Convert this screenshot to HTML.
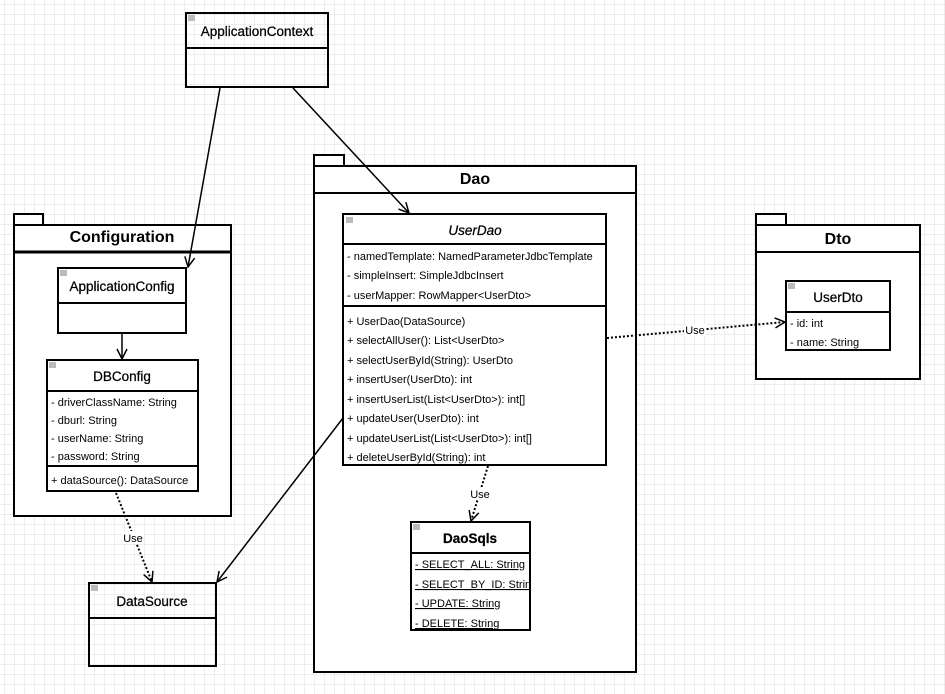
<!DOCTYPE html>
<html><head><meta charset="utf-8"><style>
html,body{margin:0;padding:0;background:#fff}
svg{display:block}
text{font-family:"Liberation Sans",Arial,sans-serif;fill:#000}
.t{font-size:11px}
.h{font-size:13.5px;stroke:#000;stroke-width:0.25}
.p{font-size:16px;font-weight:bold}
.b{stroke:#000;stroke-width:2;fill:none}
.w{stroke:#000;stroke-width:2;fill:#fff}
</style></head><body>
<svg width="945" height="694" viewBox="0 0 945 694" xmlns="http://www.w3.org/2000/svg">
<defs>
<pattern id="g" width="10" height="10" patternUnits="userSpaceOnUse" x="4" y="4">
<path d="M10 0H0V10" fill="none" stroke="#dcdcdc" stroke-width="1"/>
</pattern>
<marker id="a" markerWidth="14" markerHeight="14" refX="11" refY="6" orient="auto" markerUnits="userSpaceOnUse">
<path d="M1 1L11 6L1 11" fill="none" stroke="#000" stroke-width="1.5"/>
</marker>
</defs>
<rect width="945" height="694" fill="url(#g)"/>

<rect x="186" y="13" width="142" height="74" class="b"/>
<line x1="186" y1="48" x2="328" y2="48" stroke="#000" stroke-width="2"/>
<rect x="188" y="15" width="7" height="6" fill="#bbb"/>
<text x="257" y="36" class="h" text-anchor="middle">ApplicationContext</text>

<rect x="14" y="214" width="29" height="11" class="w"/>
<rect x="14" y="225" width="217" height="291" class="w"/>
<line x1="14" y1="252" x2="231" y2="252" stroke="#000" stroke-width="3"/>
<text x="122" y="242" class="p" text-anchor="middle">Configuration</text>

<rect x="58" y="268" width="128" height="65" class="b"/>
<line x1="58" y1="303" x2="186" y2="303" stroke="#000" stroke-width="2"/>
<rect x="60" y="270" width="7" height="6" fill="#bbb"/>
<text x="122" y="291" class="h" text-anchor="middle">ApplicationConfig</text>

<rect x="47" y="360" width="151" height="131" class="b"/>
<line x1="47" y1="391" x2="198" y2="391" stroke="#000" stroke-width="2"/>
<line x1="47" y1="466" x2="198" y2="466" stroke="#000" stroke-width="2"/>
<rect x="49" y="362" width="7" height="6" fill="#bbb"/>
<text x="122" y="381" class="h" text-anchor="middle">DBConfig</text>
<text x="51" y="406" class="t">- driverClassName: String</text>
<text x="51" y="424" class="t">- dburl: String</text>
<text x="51" y="442" class="t">- userName: String</text>
<text x="51" y="460" class="t">- password: String</text>
<text x="51" y="484" class="t">+ dataSource(): DataSource</text>

<rect x="89" y="583" width="127" height="83" class="b"/>
<line x1="89" y1="618" x2="216" y2="618" stroke="#000" stroke-width="2"/>
<rect x="91" y="585" width="7" height="6" fill="#bbb"/>
<text x="152" y="606" class="h" text-anchor="middle">DataSource</text>

<rect x="314" y="155" width="30" height="11" class="w"/>
<rect x="314" y="166" width="322" height="506" class="w"/>
<line x1="314" y1="193" x2="636" y2="193" stroke="#000" stroke-width="2"/>
<text x="475" y="184" class="p" text-anchor="middle">Dao</text>

<rect x="343" y="214" width="263" height="251" class="w"/>
<line x1="343" y1="244" x2="606" y2="244" stroke="#000" stroke-width="2"/>
<line x1="343" y1="306" x2="606" y2="306" stroke="#000" stroke-width="2"/>
<rect x="346" y="217" width="7" height="6" fill="#bbb"/>
<text x="475" y="235" class="h" text-anchor="middle" font-style="italic">UserDao</text>
<text x="347" y="260" class="t">- namedTemplate: NamedParameterJdbcTemplate</text>
<text x="347" y="279" class="t">- simpleInsert: SimpleJdbcInsert</text>
<text x="347" y="299" class="t">- userMapper: RowMapper&lt;UserDto&gt;</text>
<text x="347" y="325" class="t">+ UserDao(DataSource)</text>
<text x="347" y="344" class="t">+ selectAllUser(): List&lt;UserDto&gt;</text>
<text x="347" y="364" class="t">+ selectUserById(String): UserDto</text>
<text x="347" y="383" class="t">+ insertUser(UserDto): int</text>
<text x="347" y="403" class="t">+ insertUserList(List&lt;UserDto&gt;): int[]</text>
<text x="347" y="422" class="t">+ updateUser(UserDto): int</text>
<text x="347" y="442" class="t">+ updateUserList(List&lt;UserDto&gt;): int[]</text>
<text x="347" y="461" class="t">+ deleteUserById(String): int</text>

<rect x="411" y="522" width="119" height="108" class="w"/>
<line x1="411" y1="553" x2="530" y2="553" stroke="#000" stroke-width="2"/>
<rect x="413" y="524" width="7" height="6" fill="#bbb"/>
<text x="470" y="543" class="h" text-anchor="middle" font-weight="bold">DaoSqls</text>
<svg x="411" y="553" width="118" height="77">
<text x="4" y="15" class="t" text-decoration="underline">- SELECT_ALL: String</text>
<text x="4" y="35" class="t" text-decoration="underline">- SELECT_BY_ID: String</text>
<text x="4" y="54" class="t" text-decoration="underline">- UPDATE: String</text>
<text x="4" y="74" class="t" text-decoration="underline">- DELETE: String</text>
</svg>

<rect x="756" y="214" width="30" height="11" class="w"/>
<rect x="756" y="225" width="164" height="154" class="w"/>
<line x1="756" y1="252" x2="920" y2="252" stroke="#000" stroke-width="2"/>
<text x="838" y="244" class="p" text-anchor="middle">Dto</text>
<rect x="786" y="281" width="104" height="69" class="w"/>
<line x1="786" y1="312" x2="890" y2="312" stroke="#000" stroke-width="2"/>
<rect x="788" y="283" width="7" height="6" fill="#bbb"/>
<text x="838" y="302" class="h" text-anchor="middle">UserDto</text>
<text x="790" y="327" class="t">- id: int</text>
<text x="790" y="346" class="t">-  name: String</text>

<g stroke="#000" stroke-width="1.5" fill="none">
<line x1="220" y1="88" x2="188" y2="267" marker-end="url(#a)"/>
<line x1="293" y1="88" x2="409" y2="213" marker-end="url(#a)"/>
<line x1="122" y1="334" x2="122" y2="359" marker-end="url(#a)"/>
<line x1="343" y1="418" x2="217" y2="582" marker-end="url(#a)"/>
</g>
<g stroke="#000" stroke-width="2" fill="none" stroke-dasharray="2,2">
<line x1="116" y1="493" x2="152" y2="582" marker-end="url(#a)"/>
<line x1="607" y1="338" x2="785" y2="322" marker-end="url(#a)"/>
<line x1="488" y1="466" x2="471" y2="521" marker-end="url(#a)"/>
</g>
<rect x="122" y="531" width="22" height="13" fill="#fff"/>
<text x="133" y="542" class="t" text-anchor="middle">Use</text>
<rect x="684" y="324" width="22" height="12" fill="#fff"/>
<text x="695" y="334" class="t" text-anchor="middle">Use</text>
<rect x="469" y="487" width="22" height="13" fill="#fff"/>
<text x="480" y="498" class="t" text-anchor="middle">Use</text>
</svg>
</body></html>
